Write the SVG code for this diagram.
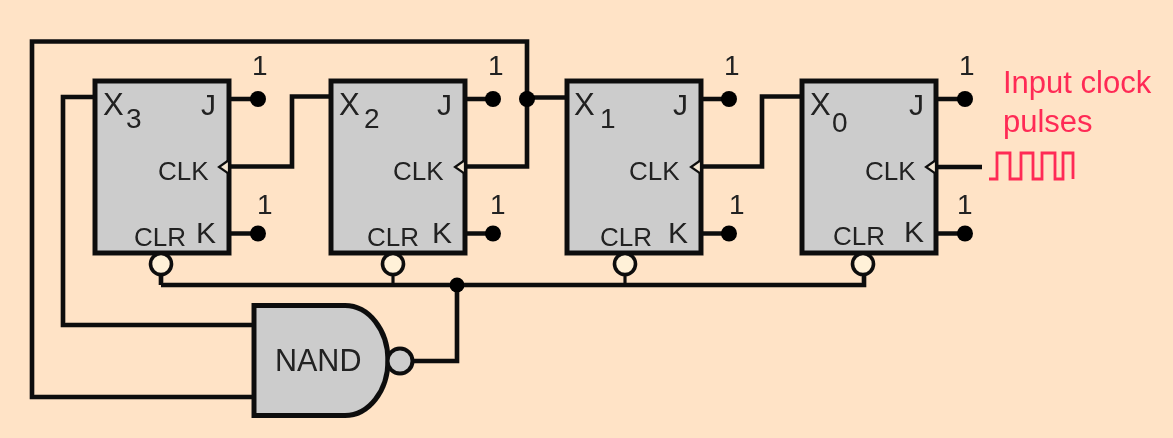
<svg xmlns="http://www.w3.org/2000/svg" width="1173" height="438" viewBox="0 0 1173 438">
<style>
.w{fill:none;stroke:#111;stroke-width:4.6;stroke-linejoin:miter}
.t{fill:none;stroke:#111;stroke-width:3.2}
.box{fill:#cccccc;stroke:#111;stroke-width:5}
.bub{fill:#fff1d8;stroke:#111;stroke-width:3.6}
.clk{fill:#f4e6d2;stroke:#111;stroke-width:2.2}
text{font-family:"Liberation Sans",Arial,sans-serif;fill:#222}
.x{font-size:31px}.s{font-size:28px}.j{font-size:30px}.c{font-size:26px}.o{font-size:28px}
.r{font-size:31px;fill:#ff2a55}
</style>
<defs><filter id="soft" filterUnits="userSpaceOnUse" x="0" y="0" width="1173" height="438"><feGaussianBlur stdDeviation="0.6"/></filter></defs>
<rect width="1173" height="438" fill="#ffe3c6"/>
<g filter="url(#soft)">
<g id="connectors">
<path class="w" d="M94 97H63V325H254"/>
<path class="w" d="M566 97.500H527V41.500H32V397H254"/>
<path class="w" d="M330 96.500H292V166.500H226"/>
<path class="w" d="M527 98V166.500H462"/>
<path class="w" d="M802 96.500H762V166.500H698"/>
<path class="w" d="M934 167H982"/>
<path class="w" d="M228 99H258M228 233.500H258"/>
<path class="w" d="M464 99H493M464 233.500H493"/>
<path class="w" d="M700 99H729M700 233.500H729"/>
<path class="w" d="M936 99H965M936 233.500H965"/>
<path class="w" d="M161 285H864V272M161 285V272"/>
<path class="t" d="M393 285V272M625 285V272"/>
<path class="w" d="M411 361H457V285"/>
<circle cx="258" cy="99" r="8"/><circle cx="258" cy="233.500" r="8"/>
<circle cx="493" cy="99" r="8"/><circle cx="493" cy="233.500" r="8"/>
<circle cx="729" cy="99" r="8"/><circle cx="729" cy="233.500" r="8"/>
<circle cx="965" cy="99" r="8"/><circle cx="965" cy="233.500" r="8"/>
<circle cx="527" cy="99" r="8"/><circle cx="457" cy="285" r="7.500"/>
</g>
<g id="x3">
<rect class="box" x="95" y="81" width="134" height="172"/>
<path class="clk" d="M229 160L219 167L229 174Z"/>
<circle class="bub" cx="161" cy="264" r="10.500"/>
<text class="x" x="103" y="115">X</text><text class="s" x="126" y="128">3</text>
<text class="j" x="201" y="115">J</text><text class="c" x="158" y="180">CLK</text>
<text class="c" x="134" y="246">CLR</text><text class="j" x="196" y="243">K</text>
<text class="o" x="252" y="75">1</text><text class="o" x="257" y="214">1</text>
</g>
<g id="x2">
<rect class="box" x="331" y="81" width="134" height="172"/>
<path class="clk" d="M465 160L455 167L465 174Z"/>
<circle class="bub" cx="393" cy="264" r="10.500"/>
<text class="x" x="339" y="115">X</text><text class="s" x="364" y="128">2</text>
<text class="j" x="437" y="115">J</text><text class="c" x="393" y="180">CLK</text>
<text class="c" x="367" y="246">CLR</text><text class="j" x="432" y="243">K</text>
<text class="o" x="488" y="75">1</text><text class="o" x="490" y="214">1</text>
</g>
<g id="x1">
<rect class="box" x="567" y="81" width="134" height="172"/>
<path class="clk" d="M701 160L691 167L701 174Z"/>
<circle class="bub" cx="625" cy="264" r="10.500"/>
<text class="x" x="574" y="115">X</text><text class="s" x="600" y="128">1</text>
<text class="j" x="673" y="115">J</text><text class="c" x="629" y="180">CLK</text>
<text class="c" x="600" y="246">CLR</text><text class="j" x="668" y="243">K</text>
<text class="o" x="724" y="75">1</text><text class="o" x="729" y="214">1</text>
</g>
<g id="x0">
<rect class="box" x="802" y="81" width="134" height="172"/>
<path class="clk" d="M936 160L926 167L936 174Z"/>
<circle class="bub" cx="863" cy="264" r="10.500"/>
<text class="x" x="810" y="115">X</text><text class="s" x="832" y="132">0</text>
<text class="j" x="909" y="115">J</text><text class="c" x="865" y="180">CLK</text>
<text class="c" x="833" y="245">CLR</text><text class="j" x="904" y="242">K</text>
<text class="o" x="959" y="75">1</text><text class="o" x="957" y="214">1</text>
</g>
<g id="nand">
<path class="box" d="M254 305.500H345A43 55 0 0 1 345 415.500H254Z"/>
<circle cx="400" cy="361" r="12.500" fill="#cccccc" stroke="#111" stroke-width="4"/>
<text x="275" y="371" style="font-size:30.500px">NAND</text>
</g>
<g id="input-clock">
<text class="r" x="1003" y="93">Input clock</text>
<text class="r" x="1003" y="132">pulses</text>
<path d="M989 179H997V153H1010V179H1021V153H1033V179H1042V153H1055V179H1063V153H1073V179" fill="none" stroke="#ff2a55" stroke-width="2.800"/>
</g>
</g>
</svg>
